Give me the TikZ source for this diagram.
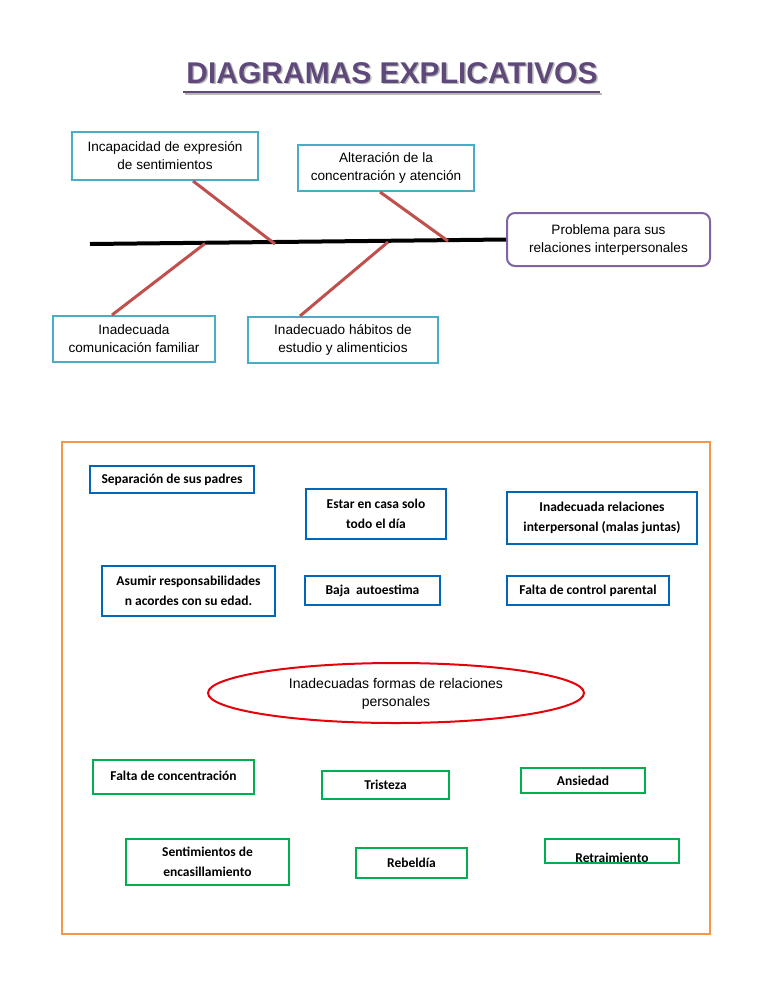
\documentclass[tikz,border=0pt]{standalone}
\usepackage{fontspec}
\setmainfont{Liberation Sans}
\newfontfamily\calib{Carlito}
\definecolor{titlepurple}{RGB}{95,73,122}
\definecolor{tealline}{RGB}{75,172,198}
\definecolor{boneline}{RGB}{192,80,77}
\definecolor{probline}{RGB}{128,100,162}
\definecolor{blueline}{RGB}{0,102,184}
\definecolor{greenline}{RGB}{0,176,80}
\definecolor{frameline}{RGB}{247,150,70}
\definecolor{ovalline}{RGB}{230,0,10}
\tikzset{
  causebox/.style={draw=tealline, line width=2pt, fill=white, align=center,
    inner sep=0pt, font=\fontsize{13.6}{18}\selectfont},
  probbox/.style={draw=probline, line width=2pt, fill=white, align=center,
    rounded corners=8pt, inner sep=0pt, font=\fontsize{13.6}{18}\selectfont},
  bluebox/.style={draw=blueline, line width=2.5pt, align=center, inner sep=0pt,
    font=\calib\bfseries\fontsize{13.5}{20}\selectfont},
  greenbox/.style={draw=greenline, line width=2.5pt, align=center, inner sep=0pt,
    font=\calib\bfseries\fontsize{13.5}{20}\selectfont},
  bone/.style={draw=boneline, line width=3pt}
}
\begin{document}
\begin{tikzpicture}[x=1pt,y=-1pt]
  \useasboundingbox (0,0) rectangle (768,994);

  % Title with a grey shadow
  \node[text=gray!55, font=\bfseries\fontsize{30}{32}\selectfont] (titleshadow) at (393.5,74.5) {DIAGRAMAS EXPLICATIVOS};
  \node[text=titlepurple, font=\bfseries\fontsize{30}{32}\selectfont] (title) at (392,73) {DIAGRAMAS EXPLICATIVOS};
  \draw[gray!55, line width=2pt] (184.5,93.5) -- (601.5,93.5);
  \draw[titlepurple, line width=2pt] (183,92) -- (600,92);

  % Fishbone: the spine and the effect
  \node[probbox, minimum width=203, minimum height=53] (problem) at (608.5,239.5) {Problema para sus\\relaciones interpersonales};
  \coordinate (tail) at (90,244);
  \draw[line width=4pt] (tail) -- (problem.west);

  % Points where the bones meet the spine
  \coordinate (meetA) at (275,244);
  \coordinate (meetB) at (448,241);
  \coordinate (meetC) at (205,243.5);
  \coordinate (meetD) at (388,242);

  % Causes
  \node[causebox, minimum width=186, minimum height=48] (expresion) at (165,156) {Incapacidad de expresión\\de sentimientos};
  \node[causebox, minimum width=176, minimum height=46] (atencion) at (386,168) {Alteración de la\\concentración y atención};
  \node[causebox, minimum width=162, minimum height=46] (familiar) at (134,339) {Inadecuada\\comunicación familiar};
  \node[causebox, minimum width=190, minimum height=46] (habitos) at (343,340) {Inadecuado hábitos de\\estudio y alimenticios};

  % Bones
  \draw[bone] ([xshift=28]expresion.south) -- (meetA);
  \draw[bone] ([xshift=-6]atencion.south) -- (meetB);
  \draw[bone] ([xshift=-22]familiar.north) -- (meetC);
  \draw[bone] ([xshift=-43]habitos.north) -- (meetD);

  % Orange frame
  \draw[frameline, line width=2pt] (62,442) rectangle (710,934);

  % Blue boxes
  \node[bluebox, minimum width=164, minimum height=27] (padres) at (172,479.5) {Separación de sus padres};
  \node[bluebox, minimum width=140, minimum height=50] (casa) at (376,514) {Estar en casa solo\\todo el día};
  \node[bluebox, minimum width=190, minimum height=52] (juntas) at (602,518) {Inadecuada relaciones\\interpersonal (malas juntas)};
  \node[bluebox, minimum width=173, minimum height=50] (asumir) at (188.5,591) {Asumir responsabilidades\\n acordes con su edad.};
  \node[bluebox, minimum width=135, minimum height=29] (autoestima) at (372.5,590.5) {Baja\ \ autoestima};
  \node[bluebox, minimum width=162, minimum height=29] (control) at (588,590.5) {Falta de control parental};

  % Central ellipse
  \draw[ovalline, line width=2pt] (396,693) ellipse (188 and 30);
  \node[align=center, font=\fontsize{14}{18}\selectfont] (formas) at (396,694) {Inadecuadas formas de relaciones\\personales};

  % Green boxes
  \node[greenbox, minimum width=161, minimum height=34] (concentracion) at (173.5,777) {\raisebox{3pt}{Falta de concentración}};
  \node[greenbox, minimum width=127, minimum height=28] (tristeza) at (385.5,785) {Tristeza};
  \node[greenbox, minimum width=124, minimum height=25] (ansiedad) at (583,780.5) {Ansiedad};
  \node[greenbox, minimum width=163, minimum height=46] (encasillamiento) at (207.5,862) {Sentimientos de\\encasillamiento};
  \node[greenbox, minimum width=111, minimum height=30] (rebeldia) at (411.5,863) {Rebeldía};
  \node[greenbox, minimum width=134, minimum height=24, path picture={
      \node[font=\calib\bfseries\fontsize{13.5}{20}\selectfont] at ([yshift=-7]path picture bounding box.center) {Retraimiento};}] (retraimiento) at (612,851) {};
\end{tikzpicture}
\end{document}
